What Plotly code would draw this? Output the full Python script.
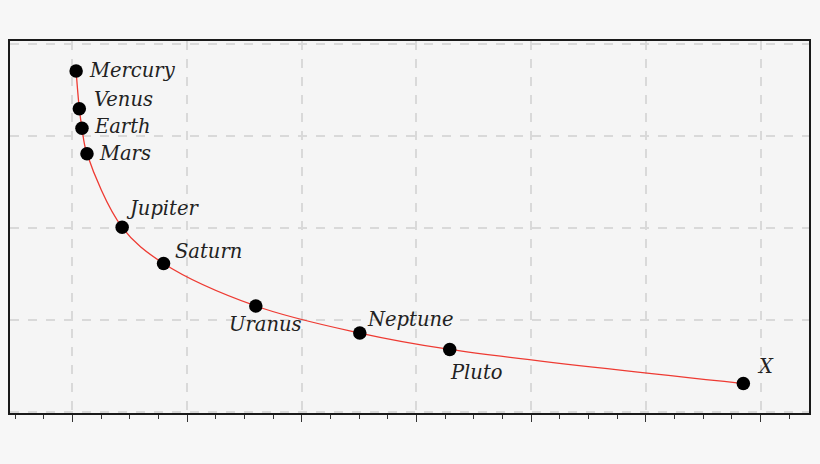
import math
import plotly.graph_objects as go

# Data: semi-major axis (AU) and orbital speed (km/s)
planets = ["Mercury", "Venus", "Earth", "Mars", "Jupiter", "Saturn",
           "Uranus", "Neptune", "Pluto", "X"]
distance_au = [0.387, 0.723, 1.0, 1.524, 5.203, 9.537, 19.19, 30.07, 39.48, 70.2]
speed_kms = [47.87, 35.02, 29.78, 24.08, 13.07, 9.68, 6.80, 5.43, 4.74, 3.57]

# label offsets in pixels (dx, dy) relative to the marker
label_dx = [11, 13, 10, 10, 2, 9, -29, 5, -2, 12]
label_dy = [1, 9, 2, 0, 19, 12, -18, 14, -23, 17]

fig = go.Figure()
fig.add_trace(go.Scatter(
    x=distance_au, y=speed_kms, mode="lines",
    line=dict(color="#ee3a32", width=1.3, shape="spline", smoothing=1.0),
    hoverinfo="skip", showlegend=False))
fig.add_trace(go.Scatter(
    x=distance_au, y=speed_kms, mode="markers",
    marker=dict(color="black", size=13.5, line=dict(width=0)),
    text=planets, showlegend=False))

for name, xv, yv, dx, dy in zip(planets, distance_au, speed_kms, label_dx, label_dy):
    fig.add_annotation(
        x=xv, y=math.log10(yv), text=name, showarrow=False,
        xanchor="left", yanchor="middle", xshift=dx, yshift=dy,
        font=dict(family="DejaVu Serif", size=19.5, color="#222222", style="italic"))

grid_color = "#d9d9d9"
fig.update_xaxes(
    range=[-6.53, 77.07], tick0=0, dtick=12, showticklabels=False,
    ticks="outside", ticklen=7, tickwidth=1, tickcolor="#333",
    showgrid=True, gridcolor=grid_color, griddash="dash", gridwidth=1.5,
    zeroline=False, showline=True, linecolor="#1a1a1a", linewidth=1.6, mirror=True,
    minor=dict(dtick=3, tick0=0, ticks="outside", ticklen=4, tickwidth=1,
               tickcolor="#333", showgrid=False))
fig.update_yaxes(
    type="log", range=[0.4465, 1.7885], tick0=0.4502, dtick=0.3321,
    showticklabels=False, ticks="",
    showgrid=True, gridcolor=grid_color, griddash="dash", gridwidth=1.5,
    zeroline=False, showline=True, linecolor="#1a1a1a", linewidth=1.6, mirror=True)

fig.update_layout(
    width=820, height=464,
    margin=dict(l=10, r=11, t=41, b=51),
    paper_bgcolor="#f7f7f7", plot_bgcolor="#f5f5f5",
    showlegend=False)

fig.write_html(
    "out.html",
    config={"displayModeBar": False},
    post_script="document.body.style.margin='0';document.body.style.background='#f7f7f7';")
